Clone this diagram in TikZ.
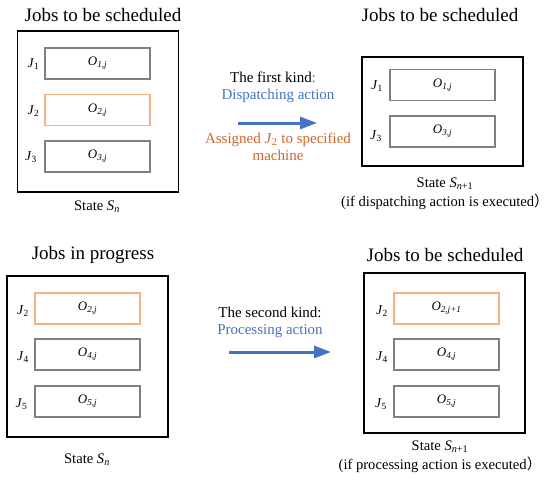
\documentclass[tikz,border=0pt]{standalone}
\usepackage{fontspec}
\setmainfont{Liberation Serif}
\newfontfamily\cjk{Noto Sans CJK SC}
\usetikzlibrary{arrows.meta}
\definecolor{blueA}{HTML}{4472C4}
\definecolor{orangeT}{HTML}{D0652A}
\definecolor{orangeB}{HTML}{F4B183}
\definecolor{grayB}{HTML}{808080}
\begin{document}
\begin{tikzpicture}[x=1pt,y=-1pt,
  title/.style={font=\fontsize{19}{22}\selectfont, inner sep=0pt},
  mid/.style={font=\fontsize{15}{17}\selectfont, inner sep=0pt, align=center},
  statetxt/.style={font=\fontsize{14.6}{19}\selectfont, inner sep=0pt, align=center},
  outerbox/.style={draw=black, line width=1.8pt, minimum width=161pt, inner sep=0pt},
  job/.style={draw=grayB, line width=1.4pt, minimum width=105pt, minimum height=31pt, inner sep=0pt, font=\fontsize{13}{15}\selectfont},
  jobhl/.style={job, draw=orangeB, line width=1.2pt},
  jl/.style={font=\fontsize{13.5}{15}\selectfont, inner sep=0pt},
  act/.style={-{Triangle[length=17pt,width=12pt]}, draw=blueA, line width=3pt}
]
\useasboundingbox (0,0) rectangle (550,480);
\newcommand\Ol[1]{\textit{O}\textsubscript{\textit{#1}}}
\newcommand\Jl[1]{\textit{J}\textsubscript{#1}}

% ---------- top left ----------
\node[title] (t1) at (103,15) {Jobs to be scheduled};
\node[outerbox, minimum height=161pt] (b1) at (98,111.5) {};
\node[job] (b1a) at (97.5,63.5) {\Ol{1,j}};
\node[jobhl] (b1b) at (97.5,110) {\Ol{2,j}};
\node[job] (b1c) at (97.5,156.5) {\Ol{3,j}};
\node[jl] (j1a) at (33.5,64) {\Jl{1}};
\node[jl] (j1b) at (33.5,111) {\Jl{2}};
\node[jl] (j1c) at (31,157) {\Jl{3}};
\node[statetxt] (s1) at (97,207) {State \textit{S}\textsubscript{\textit{n}}};

% ---------- top middle ----------
\node[mid] (k1) at (273,77) {The first kind\textcolor{blueA}{:}};
\node[mid, text=blueA] (d1) at (278,96) {Dispatching action};
\coordinate (a1s) at (238,123);
\coordinate (a1e) at (317,123);
\draw[act] (a1s) -- (a1e);
\node[mid, text=orangeT] (as1) at (278,146.5) {Assigned \Jl{2} to specified\\machine};

% ---------- top right ----------
\node[title] (t2) at (440,15) {Jobs to be scheduled};
\node[outerbox, minimum height=109pt] (b2) at (442.5,111.5) {};
\node[job] (b2a) at (442.5,85) {\Ol{1,j}};
\node[job] (b2b) at (442.5,131.5) {\Ol{3,j}};
\node[jl] (j2a) at (377,86) {\Jl{1}};
\node[jl] (j2b) at (376,136) {\Jl{3}};
\node[statetxt] (s2) at (445,193.5) {State \textit{S}\textsubscript{\textit{n}+1}\\(if dispatching action is executed{\cjk ）}};

% ---------- bottom left ----------
\node[title] (t3) at (93,255) {Jobs in progress};
\node[outerbox, minimum height=161pt] (b3) at (87.5,356.5) {};
\node[jobhl] (b3a) at (87.5,308.5) {\Ol{2,j}};
\node[job] (b3b) at (87.5,354.5) {\Ol{4,j}};
\node[job] (b3c) at (87.5,401.5) {\Ol{5,j}};
\node[jl] (j3a) at (23,311) {\Jl{2}};
\node[jl] (j3b) at (23,357) {\Jl{4}};
\node[jl] (j3c) at (21.5,404) {\Jl{5}};
\node[statetxt] (s3) at (87,460) {State \textit{S}\textsubscript{\textit{n}}};

% ---------- bottom middle ----------
\node[mid] (k2) at (270,312) {The second kind:};
\node[mid, text=blueA] (d2) at (270,331) {Processing action};
\coordinate (a2s) at (229,352);
\coordinate (a2e) at (331,352);
\draw[act] (a2s) -- (a2e);

% ---------- bottom right ----------
\node[title] (t4) at (445,255) {Jobs to be scheduled};
\node[outerbox, minimum height=160pt] (b4) at (444.5,353) {};
\node[jobhl] (b4a) at (446.5,308.5) {\Ol{2,j+1}};
\node[job] (b4b) at (446.5,354.5) {\Ol{4,j}};
\node[job] (b4c) at (446.5,401.5) {\Ol{5,j}};
\node[jl] (j4a) at (382,311) {\Jl{2}};
\node[jl] (j4b) at (382,357) {\Jl{4}};
\node[jl] (j4c) at (381,404) {\Jl{5}};
\node[statetxt] (s4) at (440,457) {State \textit{S}\textsubscript{\textit{n}+1}\\(if processing action is executed{\cjk ）}};
\end{tikzpicture}
\end{document}
